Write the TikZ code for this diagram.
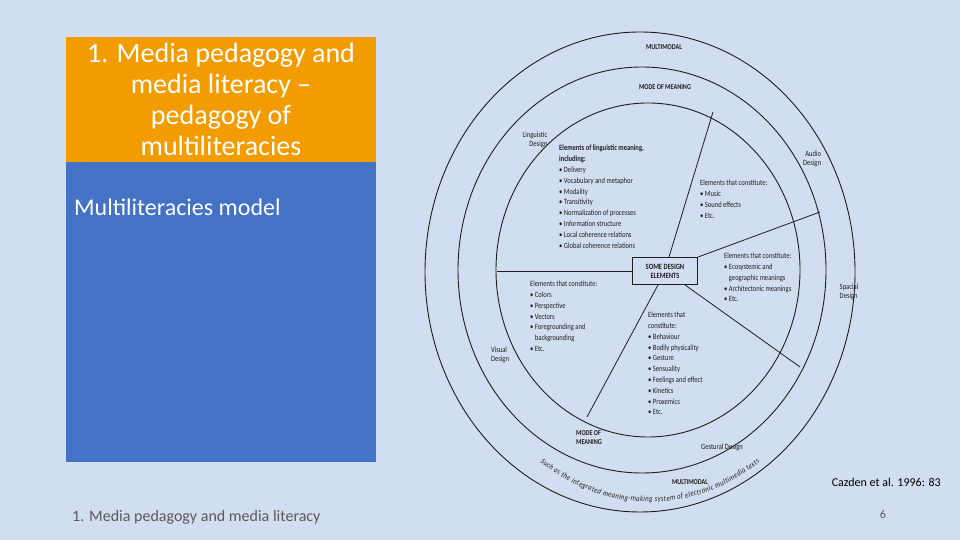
\documentclass[tikz,border=0pt]{standalone}
\usepackage{fontspec}
\setmainfont{Carlito}
\newfontfamily\cond[FakeStretch=0.82]{Carlito}
\usetikzlibrary{decorations.text}
\definecolor{bg}{RGB}{209,221,240}
\definecolor{orng}{RGB}{243,156,0}
\definecolor{blu}{RGB}{68,114,196}
\definecolor{ink}{RGB}{30,30,30}
\definecolor{foot}{RGB}{90,90,90}
\tikzset{
  ring/.style={draw=ink, line width=0.9pt},
  spoke/.style={draw=ink, line width=0.8pt},
  lbl/.style={font=\cond\fontsize{8}{9.5}\selectfont, text=ink, align=center, inner sep=0pt},
  blk/.style={font=\cond\fontsize{8}{10.8}\selectfont, text=ink, align=left, anchor=north west, inner sep=0pt},
  hdr/.style={font=\cond\fontsize{8}{9}\selectfont\bfseries, text=ink, align=center, inner sep=0pt}
}
\begin{document}
\begin{tikzpicture}[x=1pt,y=1pt]
\fill[bg] (0,0) rectangle (960,540);
\useasboundingbox (0,0) rectangle (960,540);
% left panel
\fill[orng] (66,378) rectangle (376,503);
\fill[blu] (66,78) rectangle (376,378);
\node[text=white, align=center, font=\fontsize{28}{31}\selectfont] (title) at (221,441)
  {1. Media pedagogy and\\media literacy –\\pedagogy of\\multiliteracies};
\node[text=white, anchor=west, font=\fontsize{24}{26}\selectfont, inner sep=0pt] (model) at (74,333) {Multiliteracies model};
\node[text=foot, anchor=west, font=\fontsize{16}{18}\selectfont, inner sep=0pt] (footer) at (72,23) {1. Media pedagogy and media literacy};
\node[text=black, anchor=east, font=\fontsize{12}{14}\selectfont, inner sep=0pt] (cite) at (941,58) {Cazden et al. 1996: 83};
\node[text=foot, font=\fontsize{12}{14}\selectfont, inner sep=0pt] (page) at (883,26) {6};
% rings
\draw[ring] (640,268) ellipse [x radius=215, y radius=240];
\draw[ring] (642,270) ellipse [x radius=184, y radius=203];
\draw[ring] (648,270) ellipse [x radius=152, y radius=167];
% centre box
\node[draw=ink, line width=0.9pt, minimum width=65pt, minimum height=27pt, hdr] (box) at (665,269) {SOME DESIGN\\ELEMENTS};
\coordinate (sTop) at (713,428);
\coordinate (sUR) at (820,328);
\coordinate (sL) at (497,269);
\coordinate (sLL) at (587,123);
\coordinate (sLR) at (800,173);
\draw[spoke] ([xshift=4pt]box.north) -- (sTop);
\draw[spoke] (box.north east) -- (sUR);
\draw[spoke] (box.west) -- (sL);
\draw[spoke] ([xshift=-7pt]box.south) -- (sLL);
\draw[spoke] ([xshift=20pt]box.south) -- (sLR);
% ring labels
\node[hdr, font=\cond\fontsize{7.5}{8}\selectfont\bfseries] (mm1) at (664,493) {MULTIMODAL};
\node[hdr, font=\cond\fontsize{7.5}{8}\selectfont\bfseries] (mom1) at (665,453) {MODE OF MEANING};
\node[hdr, font=\cond\fontsize{7.5}{9}\selectfont\bfseries, align=left] (mom2) at (589,102) {MODE OF\\MEANING};
\node[hdr, font=\cond\fontsize{7.5}{8}\selectfont\bfseries] (mm2) at (690,58) {MULTIMODAL};
\node[lbl, align=right] (ling) at (535,400) {Linguistic\\Design};
\node[lbl, align=right] (aud) at (812,381) {Audio\\Design};
\node[lbl, align=left] (spa) at (849,248) {Spacial\\Design};
\node[lbl, align=left] (vis) at (500,185) {Visual\\Design};
\node[lbl] (ges) at (722,93) {Gestural Design};
% blocks
\node[blk] (b1) at (559,395) {\textbf{Elements of linguistic meaning,}\\\textbf{including:}\\• Delivery\\• Vocabulary and metaphor\\• Modality\\• Transitivity\\• Normalization of processes\\• Information structure\\• Local coherence relations\\• Global coherence relations};
\node[blk] (b2) at (700,360) {Elements that constitute:\\• Music\\• Sound effects\\• Etc.};
\node[blk] (b3) at (724,287) {Elements that constitute:\\• Ecosystemic and\\\phantom{• }geographic meanings\\• Architectonic meanings\\• Etc.};
\node[blk] (b4) at (530,259) {Elements that constitute:\\• Colors\\• Perspective\\• Vectors\\• Foregrounding and\\\phantom{• }backgrounding\\• Etc.};
\node[blk] (b5) at (648,228) {Elements that\\constitute:\\• Behaviour\\• Bodily physicality\\• Gesture\\• Sensuality\\• Feelings and effect\\• Kinetics\\• Proxemics\\• Etc.};
% curved text
\path[decorate, decoration={text along path, text align={fit to path}, raise=0pt,
  text={|\cond\fontsize{8}{9}\selectfont\itshape\color{ink}|Such as the integrated meaning-making system of electronic multimedia texts}}]
  (650,270) ++(236:196 and 232) arc [start angle=236, end angle=304, x radius=196, y radius=232];
\end{tikzpicture}
\end{document}
